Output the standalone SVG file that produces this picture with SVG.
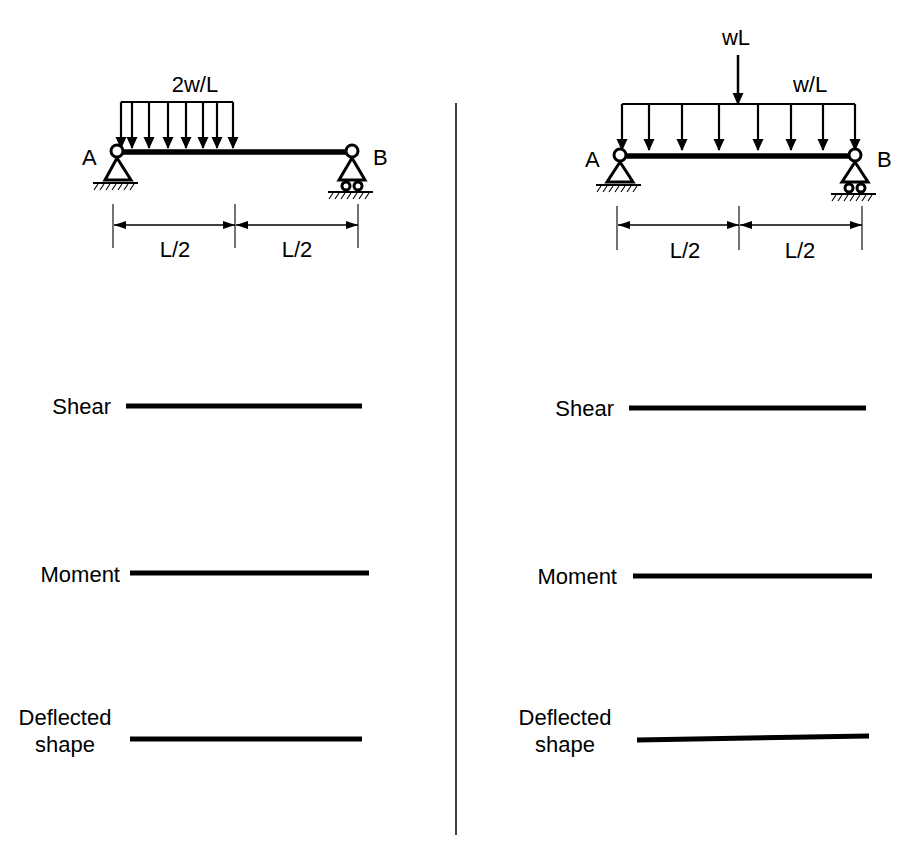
<svg xmlns="http://www.w3.org/2000/svg" width="920" height="862" viewBox="0 0 920 862">
<defs>
<marker id="ah" markerWidth="12" markerHeight="12" refX="11" refY="6" orient="auto" markerUnits="userSpaceOnUse"><path d="M0,0.5 L12,6 L0,11.5 Z" fill="#000"/></marker>
<marker id="dh" markerWidth="12" markerHeight="10" refX="12" refY="5" orient="auto" markerUnits="userSpaceOnUse"><path d="M0,1 L12,5 L0,9 Z" fill="#000"/></marker>
</defs>
<style>
text{font-family:"Liberation Sans",Arial,sans-serif;font-size:22px;fill:#000}
.ld{stroke:#000;stroke-width:2.2;fill:none}
.beam{stroke:#000;stroke-width:5.5}
.sup{stroke:#000;stroke-width:3;fill:#fff}
.thin{stroke:#000;stroke-width:1.1;fill:none}
.dia{stroke:#000;stroke-width:5}
</style>
<rect width="920" height="862" fill="#fff"/>
<g id="beam-left">
<text x="195" y="92" text-anchor="middle">2w/L</text>
<path class="ld" d="M121,102 H233"/>
<g class="ld" marker-end="url(#ah)">
<line x1="121" y1="102" x2="121" y2="148"/><line x1="132" y1="102" x2="132" y2="148"/><line x1="149" y1="102" x2="149" y2="148"/><line x1="168" y1="102" x2="168" y2="148"/><line x1="186" y1="102" x2="186" y2="148"/><line x1="203" y1="102" x2="203" y2="148"/><line x1="217" y1="102" x2="217" y2="148"/><line x1="233" y1="102" x2="233" y2="148"/>
</g>
<line class="beam" x1="118" y1="152" x2="350" y2="152"/>
<path class="sup" d="M117,158 L105,180 L131,180 Z"/>
<circle class="sup" cx="117" cy="151" r="6"/>
<line class="ld" x1="93" y1="183" x2="138" y2="183"/>
<path class="thin" d="M98,184 l-4,6 M104,184 l-4,6 M110,184 l-4,6 M116,184 l-4,6 M122,184 l-4,6 M128,184 l-4,6 M134,184 l-4,6"/>
<path class="sup" d="M352,158 L339,180 L365,180 Z"/>
<circle class="sup" cx="352" cy="151" r="6"/>
<circle class="sup" cx="346" cy="186" r="4"/><circle class="sup" cx="358" cy="186" r="4"/>
<line class="ld" x1="328" y1="192" x2="373" y2="192"/>
<path class="thin" d="M333,193 l-4,6 M339,193 l-4,6 M345,193 l-4,6 M351,193 l-4,6 M357,193 l-4,6 M363,193 l-4,6 M369,193 l-4,6"/>
<text x="82" y="165">A</text><text x="373" y="165">B</text>
<path class="thin" d="M113,204 V248 M235,204 V248 M358,204 V248"/>
<line class="thin" x1="235" y1="225" x2="114" y2="225" marker-end="url(#dh)"/>
<line class="thin" x1="114" y1="225" x2="235" y2="225" marker-end="url(#dh)"/>
<line class="thin" x1="358" y1="225" x2="236" y2="225" marker-end="url(#dh)"/>
<line class="thin" x1="236" y1="225" x2="358" y2="225" marker-end="url(#dh)"/>
<text x="175" y="257" text-anchor="middle">L/2</text><text x="297" y="257" text-anchor="middle">L/2</text>
</g>
<g id="beam-right">
<text x="736" y="45" text-anchor="middle">wL</text>
<line x1="738" y1="55" x2="738" y2="104" stroke="#000" stroke-width="2.5" marker-end="url(#ah)"/>
<text x="810" y="92" text-anchor="middle">w/L</text>
<path class="ld" d="M622,104 H855"/>
<g class="ld" marker-end="url(#ah)">
<line x1="622" y1="104" x2="622" y2="150"/><line x1="649" y1="104" x2="649" y2="150"/><line x1="682" y1="104" x2="682" y2="150"/><line x1="719" y1="104" x2="719" y2="150"/><line x1="758" y1="104" x2="758" y2="150"/><line x1="791" y1="104" x2="791" y2="150"/><line x1="823" y1="104" x2="823" y2="150"/><line x1="855" y1="104" x2="855" y2="150"/>
</g>
<line class="beam" x1="620" y1="156" x2="855" y2="156"/>
<path class="sup" d="M620,162 L607,182 L633,182 Z"/>
<circle class="sup" cx="620" cy="155" r="6"/>
<line class="ld" x1="596" y1="185" x2="641" y2="185"/>
<path class="thin" d="M601,186 l-4,6 M607,186 l-4,6 M613,186 l-4,6 M619,186 l-4,6 M625,186 l-4,6 M631,186 l-4,6 M637,186 l-4,6"/>
<path class="sup" d="M855,162 L842,182 L868,182 Z"/>
<circle class="sup" cx="855" cy="155" r="6"/>
<circle class="sup" cx="849" cy="188" r="4"/><circle class="sup" cx="861" cy="188" r="4"/>
<line class="ld" x1="831" y1="194" x2="876" y2="194"/>
<path class="thin" d="M836,195 l-4,6 M842,195 l-4,6 M848,195 l-4,6 M854,195 l-4,6 M860,195 l-4,6 M866,195 l-4,6 M872,195 l-4,6"/>
<text x="585" y="167">A</text><text x="877" y="167">B</text>
<path class="thin" d="M617,206 V250 M739,206 V250 M862,206 V250"/>
<line class="thin" x1="739" y1="225" x2="618" y2="225" marker-end="url(#dh)"/>
<line class="thin" x1="618" y1="225" x2="739" y2="225" marker-end="url(#dh)"/>
<line class="thin" x1="862" y1="225" x2="740" y2="225" marker-end="url(#dh)"/>
<line class="thin" x1="740" y1="225" x2="862" y2="225" marker-end="url(#dh)"/>
<text x="685" y="258" text-anchor="middle">L/2</text><text x="800" y="258" text-anchor="middle">L/2</text>
</g>
<g id="divider"><line x1="456" y1="103" x2="456" y2="835" stroke="#000" stroke-width="1.5"/></g>
<g id="diagrams-left">
<text x="111" y="414" text-anchor="end">Shear</text>
<line class="dia" x1="126" y1="406" x2="362" y2="406"/>
<text x="120" y="582" text-anchor="end">Moment</text>
<line class="dia" x1="130" y1="573" x2="369" y2="573"/>
<text x="65" y="725" text-anchor="middle">Deflected</text><text x="65" y="752" text-anchor="middle">shape</text>
<line class="dia" x1="130" y1="739" x2="362" y2="739"/>
</g>
<g id="diagrams-right">
<text x="614" y="416" text-anchor="end">Shear</text>
<line class="dia" x1="629" y1="408" x2="866" y2="408"/>
<text x="617" y="584" text-anchor="end">Moment</text>
<line class="dia" x1="633" y1="576" x2="872" y2="576"/>
<text x="565" y="725" text-anchor="middle">Deflected</text><text x="565" y="752" text-anchor="middle">shape</text>
<line class="dia" x1="637" y1="740" x2="869" y2="736"/>
</g>
</svg>
